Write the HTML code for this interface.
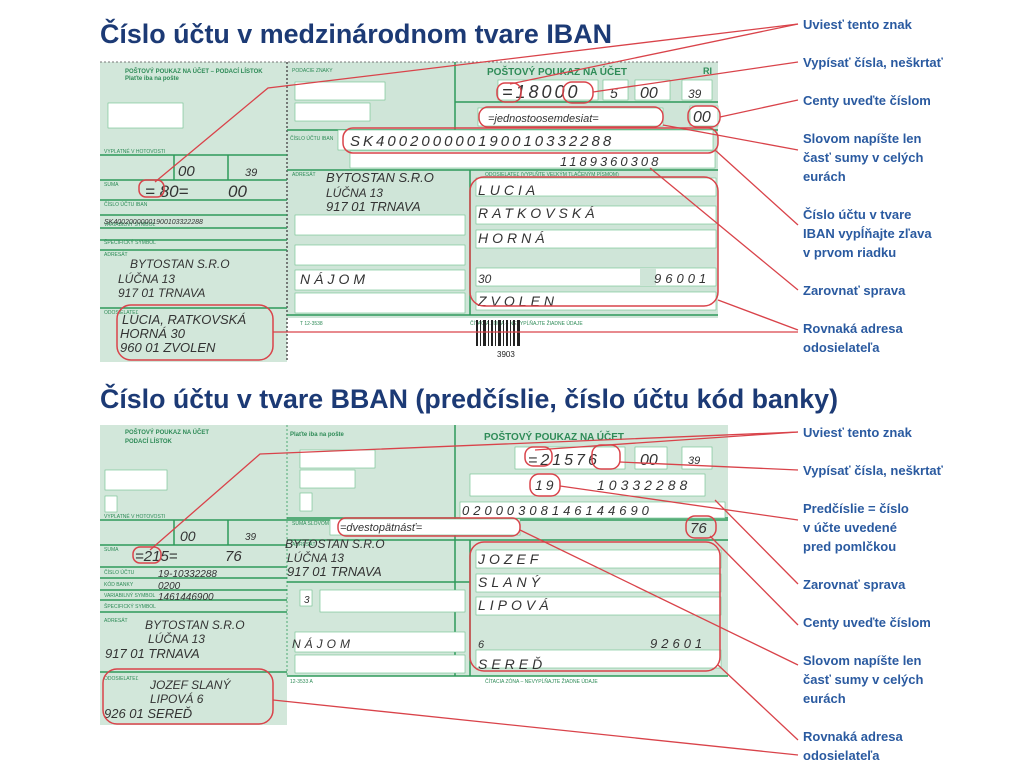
<!DOCTYPE html>
<html><head><meta charset="utf-8"><style>
html,body{margin:0;padding:0;background:#fff;width:1024px;height:768px;overflow:hidden}
svg{display:block}
.t{font-family:"Liberation Sans",sans-serif;font-weight:bold;fill:#1c3a75}
.l{font-family:"Liberation Sans",sans-serif;font-weight:bold;font-size:13px;fill:#2a5aa0}
.s{font-family:"Liberation Sans",sans-serif;font-size:5px;fill:#2e8b57}
.h{font-family:"Liberation Sans",sans-serif;font-weight:bold;fill:#2e8b57}
.w{font-family:"Liberation Sans",sans-serif;font-style:italic;fill:#333}
</style></head><body>
<svg width="1024" height="768" viewBox="0 0 1024 768">
<text class="t" x="100" y="43" font-size="27" textLength="512" lengthAdjust="spacingAndGlyphs">Číslo účtu v medzinárodnom tvare IBAN</text>
<text class="t" x="100" y="408" font-size="27" textLength="738" lengthAdjust="spacingAndGlyphs">Číslo účtu v tvare BBAN (predčíslie, číslo účtu kód banky)</text>

<rect x="100" y="62" width="618" height="300" fill="#d2e7da"/>
<rect x="287" y="62" width="431" height="300" fill="#cfe5d8"/>
<rect x="287" y="318" width="431" height="44" fill="#fff"/>
<line x1="100" y1="62" x2="718" y2="62" stroke="#777" stroke-dasharray="2,2"/>
<line x1="287" y1="62" x2="287" y2="362" stroke="#555" stroke-dasharray="2,2" stroke-width="1.5"/>
<g stroke="#2e9a5a" stroke-width="1.5" fill="none">
<line x1="100" y1="155" x2="287" y2="155"/><line x1="100" y1="180" x2="287" y2="180"/>
<line x1="100" y1="200" x2="287" y2="200"/><line x1="100" y1="215" x2="287" y2="215"/>
<line x1="100" y1="228" x2="287" y2="228"/><line x1="100" y1="240" x2="287" y2="240"/>
<line x1="100" y1="250" x2="287" y2="250"/><line x1="100" y1="308" x2="287" y2="308"/>
<line x1="174" y1="155" x2="174" y2="180"/><line x1="228" y1="155" x2="228" y2="180"/>
<line x1="287" y1="130" x2="718" y2="130"/><line x1="287" y1="170" x2="718" y2="170"/>
<line x1="287" y1="315" x2="718" y2="315"/>
<line x1="470" y1="170" x2="470" y2="315"/><line x1="455" y1="62" x2="455" y2="130"/>
<line x1="455" y1="102" x2="718" y2="102"/>
</g>
<g fill="#fff" stroke="#6cbf8b" stroke-width="0.6">
<rect x="108" y="103" width="75" height="25"/>
<rect x="295" y="82" width="90" height="18"/><rect x="295" y="103" width="75" height="18"/>
<rect x="338" y="130" width="375" height="20"/><rect x="350" y="151" width="365" height="17"/>
<rect x="498" y="80" width="100" height="20"/><rect x="603" y="80" width="25" height="20"/>
<rect x="635" y="80" width="35" height="20"/><rect x="682" y="80" width="30" height="20"/>
<rect x="478" y="108" width="185" height="18"/><rect x="690" y="106" width="28" height="20"/>
<rect x="295" y="215" width="170" height="20"/><rect x="295" y="245" width="170" height="20"/>
<rect x="295" y="270" width="170" height="20"/><rect x="295" y="293" width="170" height="20"/>
<rect x="476" y="178" width="240" height="18"/><rect x="476" y="206" width="240" height="18"/>
<rect x="476" y="230" width="240" height="18"/><rect x="476" y="268" width="240" height="18"/>
<rect x="476" y="292" width="240" height="18"/>
</g>
<rect x="640" y="268" width="16" height="18" fill="#cfe5d8"/>
<text class="h" x="125" y="73" font-size="6">POŠTOVÝ POUKAZ NA ÚČET – PODACÍ LÍSTOK</text>
<text class="h" x="125" y="80" font-size="6">Plaťte iba na pošte</text>
<text class="h" x="487" y="75" font-size="10">POŠTOVÝ POUKAZ NA ÚČET</text>
<text class="h" x="703" y="74" font-size="9">RI</text>
<text class="s" x="292" y="72">PODACIE ZNAKY</text>
<text class="s" x="290" y="140">ČÍSLO ÚČTU IBAN</text>
<text class="s" x="104" y="153">VYPLATNÉ V HOTOVOSTI</text>
<text class="s" x="104" y="186">SUMA</text>
<text class="s" x="104" y="206">ČÍSLO ÚČTU IBAN</text>
<text class="s" x="104" y="226">VARIABILNÝ SYMBOL</text>
<text class="s" x="104" y="244">ŠPECIFICKÝ SYMBOL</text>
<text class="s" x="104" y="256">ADRESÁT</text>
<text class="s" x="104" y="314">ODOSIELATEĽ</text>
<text class="s" x="292" y="176">ADRESÁT</text>
<text class="s" x="485" y="176">ODOSIELATEĽ (VYPLŇTE VEĽKÝM TLAČENÝM PÍSMOM)</text>
<text class="s" x="300" y="325">T 12-3538</text>
<text class="s" x="470" y="325">ČÍTACIA ZÓNA – NEVYPĹŇAJTE ŽIADNE ÚDAJE</text>
<g fill="#222"><rect x="476" y="320" width="2" height="26"/><rect x="480" y="320" width="1" height="26"/><rect x="483" y="320" width="3" height="26"/><rect x="488" y="320" width="1" height="26"/><rect x="491" y="320" width="2" height="26"/><rect x="495" y="320" width="1" height="26"/><rect x="498" y="320" width="3" height="26"/><rect x="503" y="320" width="1" height="26"/><rect x="506" y="320" width="2" height="26"/><rect x="510" y="320" width="1" height="26"/><rect x="513" y="320" width="2" height="26"/><rect x="517" y="320" width="3" height="26"/></g>
<text x="497" y="357" font-size="8" font-family="Liberation Sans" fill="#222">3903</text>
<g class="w">
<text x="178" y="176" font-size="15">00</text><text x="245" y="176" font-size="11">39</text>
<text x="145" y="197" font-size="17">= 80=</text><text x="228" y="197" font-size="17">00</text>
<text x="104" y="224" font-size="7">SK40020000001900103322288</text>
<text x="130" y="268" font-size="12">BYTOSTAN S.R.O</text>
<text x="118" y="283" font-size="12">LÚČNA 13</text>
<text x="118" y="297" font-size="12">917 01 TRNAVA</text>
<text x="122" y="324" font-size="13">LUCIA, RATKOVSKÁ</text>
<text x="120" y="338" font-size="13">HORNÁ 30</text>
<text x="120" y="352" font-size="13">960 01 ZVOLEN</text>
<text x="326" y="182" font-size="13">BYTOSTAN S.R.O</text>
<text x="326" y="197" font-size="12">LÚČNA 13</text>
<text x="326" y="211" font-size="13">917 01 TRNAVA</text>
<text x="300" y="284" font-size="14" letter-spacing="4">NÁJOM</text>
<text x="350" y="146" font-size="15" letter-spacing="3">SK400200000190010332288</text>
<text x="560" y="166" font-size="13" letter-spacing="3">1189360308</text>
<text x="502" y="98" font-size="18" letter-spacing="3">=18000</text>
<text x="610" y="98" font-size="14">5</text><text x="640" y="98" font-size="16">00</text><text x="688" y="98" font-size="12">39</text>
<text x="488" y="122" font-size="11">=jednostoosemdesiat=</text>
<text x="693" y="122" font-size="16">00</text>
<text x="478" y="195" font-size="14" letter-spacing="4">LUCIA</text>
<text x="478" y="218" font-size="14" letter-spacing="4">RATKOVSKÁ</text>
<text x="478" y="243" font-size="14" letter-spacing="4">HORNÁ</text>
<text x="478" y="283" font-size="12">30</text>
<text x="654" y="283" font-size="13" letter-spacing="4">96001</text>
<text x="478" y="306" font-size="14" letter-spacing="4">ZVOLEN</text>
</g>

<rect x="100" y="425" width="628" height="300" fill="#d2e7da"/>
<rect x="287" y="676" width="441" height="50" fill="#fff"/>
<line x1="287" y1="425" x2="287" y2="676" stroke="#2e9a5a" stroke-width="0.8" stroke-dasharray="2,2"/>
<g stroke="#2e9a5a" stroke-width="1.5" fill="none">
<line x1="455" y1="425" x2="455" y2="676"/>
<line x1="100" y1="520" x2="728" y2="520"/><line x1="100" y1="545" x2="287" y2="545"/>
<line x1="100" y1="567" x2="287" y2="567"/><line x1="100" y1="578" x2="287" y2="578"/>
<line x1="100" y1="590" x2="287" y2="590"/><line x1="100" y1="600" x2="287" y2="600"/>
<line x1="100" y1="612" x2="287" y2="612"/><line x1="100" y1="672" x2="287" y2="672"/>
<line x1="174" y1="520" x2="174" y2="545"/><line x1="228" y1="520" x2="228" y2="545"/>
<line x1="287" y1="540" x2="728" y2="540"/><line x1="287" y1="582" x2="470" y2="582"/>
<line x1="470" y1="540" x2="470" y2="676"/><line x1="287" y1="676" x2="728" y2="676"/>
<line x1="287" y1="518" x2="728" y2="518"/>
</g>
<g fill="#fff" stroke="#6cbf8b" stroke-width="0.6">
<rect x="105" y="470" width="62" height="20"/><rect x="105" y="496" width="12" height="16"/>
<rect x="300" y="450" width="75" height="18"/><rect x="300" y="470" width="55" height="18"/>
<rect x="300" y="493" width="12" height="18"/>
<rect x="515" y="447" width="110" height="22"/><rect x="635" y="447" width="32" height="22"/><rect x="682" y="447" width="30" height="22"/>
<rect x="470" y="474" width="235" height="22"/>
<rect x="460" y="502" width="265" height="16"/>
<rect x="330" y="519" width="190" height="16"/>
<rect x="476" y="550" width="245" height="18"/><rect x="476" y="574" width="245" height="18"/>
<rect x="476" y="597" width="245" height="18"/><rect x="476" y="650" width="245" height="18"/>
<rect x="300" y="590" width="12" height="16"/><rect x="320" y="590" width="145" height="22"/>
<rect x="295" y="632" width="170" height="20"/><rect x="295" y="655" width="170" height="18"/>
</g>
<text class="h" x="125" y="434" font-size="6">POŠTOVÝ POUKAZ NA ÚČET</text>
<text class="h" x="125" y="443" font-size="6">PODACÍ LÍSTOK</text>
<text class="h" x="290" y="436" font-size="6">Plaťte iba na pošte</text>
<text class="h" x="484" y="440" font-size="10">POŠTOVÝ POUKAZ NA ÚČET</text>
<text class="s" x="104" y="518">VYPLATNÉ V HOTOVOSTI</text>
<text class="s" x="104" y="551">SUMA</text>
<text class="s" x="104" y="574">ČÍSLO ÚČTU</text>
<text class="s" x="104" y="586">KÓD BANKY</text>
<text class="s" x="104" y="597">VARIABILNÝ SYMBOL</text>
<text class="s" x="104" y="608">ŠPECIFICKÝ SYMBOL</text>
<text class="s" x="104" y="622">ADRESÁT</text>
<text class="s" x="104" y="680">ODOSIELATEĽ</text>
<text class="s" x="292" y="525">SUMA SLOVOM</text>
<text class="s" x="292" y="546">ADRESÁT</text>
<text class="s" x="290" y="683">12-3533 A</text>
<text class="s" x="485" y="683">ČÍTACIA ZÓNA – NEVYPĹŇAJTE ŽIADNE ÚDAJE</text>
<g class="w">
<text x="180" y="541" font-size="14">00</text><text x="245" y="540" font-size="10">39</text>
<text x="135" y="561" font-size="15">=215=</text><text x="225" y="561" font-size="15">76</text>
<text x="158" y="577" font-size="10">19-10332288</text>
<text x="158" y="589" font-size="10">0200</text>
<text x="158" y="600" font-size="10">1461446900</text>
<text x="145" y="629" font-size="12">BYTOSTAN S.R.O</text>
<text x="148" y="643" font-size="12">LÚČNA 13</text>
<text x="105" y="658" font-size="13">917 01 TRNAVA</text>
<text x="150" y="689" font-size="12">JOZEF SLANÝ</text>
<text x="150" y="703" font-size="12">LIPOVÁ 6</text>
<text x="104" y="718" font-size="13">926 01 SEREĎ</text>
<text x="285" y="548" font-size="12">BYTOSTAN S.R.O</text>
<text x="287" y="562" font-size="12">LÚČNA 13</text>
<text x="287" y="576" font-size="13">917 01 TRNAVA</text>
<text x="304" y="603" font-size="10">3</text>
<text x="292" y="648" font-size="12" letter-spacing="4">NÁJOM</text>
<text x="528" y="465" font-size="16" letter-spacing="3">=21576</text>
<text x="640" y="465" font-size="16">00</text><text x="688" y="464" font-size="11">39</text>
<text x="535" y="490" font-size="14" letter-spacing="3">19</text>
<text x="597" y="490" font-size="14" letter-spacing="4">10332288</text>
<text x="462" y="515" font-size="13" letter-spacing="4">02000308146144690</text>
<text x="340" y="531" font-size="11">=dvestopätnásť=</text>
<text x="690" y="533" font-size="15">76</text>
<text x="478" y="564" font-size="14" letter-spacing="4">JOZEF</text>
<text x="478" y="587" font-size="14" letter-spacing="4">SLANÝ</text>
<text x="478" y="610" font-size="14" letter-spacing="4">LIPOVÁ</text>
<text x="478" y="648" font-size="11">6</text>
<text x="650" y="648" font-size="13" letter-spacing="4">92601</text>
<text x="478" y="669" font-size="14" letter-spacing="4">SEREĎ</text>
</g>

<g fill="none" stroke="#d9434a" stroke-width="1.5">
<rect x="497" y="83" width="24" height="19" rx="8"/><rect x="563" y="82" width="30" height="21" rx="9"/>
<rect x="688" y="106" width="32" height="21" rx="9"/><rect x="479" y="107" width="184" height="20" rx="9"/>
<rect x="343" y="128" width="375" height="25" rx="10"/><rect x="470" y="177" width="248" height="129" rx="14"/>
<rect x="139" y="180" width="25" height="17" rx="7"/><rect x="117" y="305" width="156" height="55" rx="14"/>
<rect x="525" y="447" width="27" height="19" rx="8"/><rect x="592" y="445" width="28" height="24" rx="9"/>
<rect x="530" y="474" width="30" height="22" rx="9"/><rect x="686" y="516" width="30" height="22" rx="9"/>
<rect x="338" y="518" width="182" height="18" rx="8"/><rect x="470" y="542" width="250" height="129" rx="14"/>
<rect x="133" y="547" width="28" height="16" rx="7"/><rect x="103" y="669" width="170" height="55" rx="14"/>
</g>
<g stroke="#d9434a" stroke-width="1.3" fill="none">
<polyline points="798,24 510,84"/><polyline points="798,24 268,88 155,182"/>
<line x1="798" y1="62" x2="593" y2="92"/><line x1="798" y1="100" x2="720" y2="117"/>
<line x1="798" y1="150" x2="663" y2="125"/><line x1="798" y1="225" x2="715" y2="150"/>
<line x1="798" y1="290" x2="650" y2="168"/>
<line x1="798" y1="330" x2="718" y2="300"/><line x1="798" y1="332" x2="273" y2="332"/>
<line x1="798" y1="432" x2="535" y2="450"/><polyline points="798,432 260,454 150,550"/>
<line x1="798" y1="470" x2="620" y2="462"/><line x1="798" y1="520" x2="560" y2="486"/>
<line x1="798" y1="584" x2="715" y2="500"/><line x1="798" y1="625" x2="710" y2="536"/>
<line x1="798" y1="665" x2="520" y2="530"/>
<line x1="798" y1="740" x2="718" y2="665"/><line x1="798" y1="755" x2="273" y2="700"/>
</g>

<g class="l">
<text x="803" y="29">Uviesť tento znak</text>
<text x="803" y="67">Vypísať čísla, neškrtať</text>
<text x="803" y="105">Centy uveďte číslom</text>
<text x="803" y="143">Slovom napíšte len</text><text x="803" y="162">časť sumy v celých</text><text x="803" y="181">eurách</text>
<text x="803" y="219">Číslo účtu v tvare</text><text x="803" y="238">IBAN vypĺňajte zľava</text><text x="803" y="257">v prvom riadku</text>
<text x="803" y="295">Zarovnať sprava</text>
<text x="803" y="333">Rovnaká adresa</text><text x="803" y="352">odosielateľa</text>
<text x="803" y="437">Uviesť tento znak</text>
<text x="803" y="475">Vypísať čísla, neškrtať</text>
<text x="803" y="513">Predčíslie = číslo</text><text x="803" y="532">v účte uvedené</text><text x="803" y="551">pred pomlčkou</text>
<text x="803" y="589">Zarovnať sprava</text>
<text x="803" y="627">Centy uveďte číslom</text>
<text x="803" y="665">Slovom napíšte len</text><text x="803" y="684">časť sumy v celých</text><text x="803" y="703">eurách</text>
<text x="803" y="741">Rovnaká adresa</text><text x="803" y="760">odosielateľa</text>
</g>
</svg>
</body></html>
